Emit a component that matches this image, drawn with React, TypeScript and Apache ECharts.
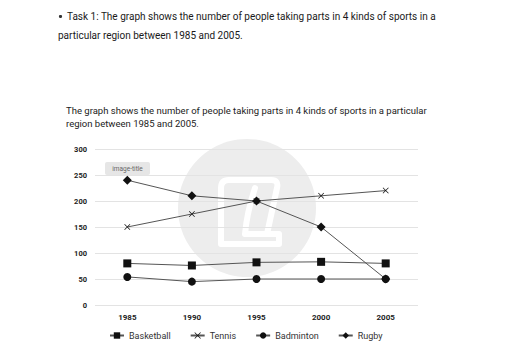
import React, { useEffect, useRef } from "react";
import * as echarts from "echarts";

const years = ["1985", "1990", "1995", "2000", "2005"];
const basketball = [80, 76, 82, 83, 80];
const tennis = [150, 175, 200, 210, 220];
const badminton = [54, 45, 50, 50, 50];
const rugby = [240, 210, 200, 150, 50];
const yTicks = { min: 0, max: 300, interval: 50 };

const headerLine1 = "Task 1: The graph shows the number of people taking parts in 4 kinds of sports in a";
const headerLine2 = "particular region between 1985 and 2005.";
const titleLine1 = "The graph shows the number of people taking parts in 4 kinds of sports in a particular";
const titleLine2 = "region between 1985 and 2005.";

const logoD =
  "M8 68 L8 12 Q8 4 16 4 L58 4 Q66 4 64 12 L54 58 M42 12 Q34 36 32 58 L66 58 L66 68 L8 68";

let registered = false;
function registerLogo() {
  if (registered) return;
  registered = true;
  echarts.graphic.registerShape("logo", (echarts.graphic as any).extendPath(logoD, {}));
}

const xSymbol =
  "path://M0,0.8 L0.8,0 L5,4.2 L9.2,0 L10,0.8 L5.8,5 L10,9.2 L9.2,10 L5,5.8 L0.8,10 L0,9.2 L4.2,5 Z";

export default function App() {
  const ref = useRef<HTMLDivElement>(null);
  useEffect(() => {
    document.body.style.margin = "0";
    registerLogo();
    const chart = echarts.init(ref.current!, null, { renderer: "svg" });
    const font = "Roboto, 'Noto Sans', sans-serif";
    const lineStyle = { color: "#555", width: 1 };
    const mk = (name: string, data: number[], symbol: string, size: number) => ({
      name,
      type: "line",
      data,
      symbol,
      symbolSize: size,
      lineStyle,
      itemStyle: { color: "#111" },
      z: 5,
    });
    chart.setOption({
      animation: false,
      backgroundColor: "#fff",
      textStyle: { fontFamily: font },
      grid: { left: 95, right: 94, top: 149, bottom: 55, containLabel: false },
      xAxis: {
        type: "category",
        data: years,
        boundaryGap: true,
        axisLine: { show: false },
        axisTick: { show: false },
        axisLabel: { color: "#222", fontSize: 8, fontWeight: "bold", margin: 8, fontFamily: font },
      },
      yAxis: {
        type: "value",
        min: yTicks.min,
        max: yTicks.max,
        interval: yTicks.interval,
        axisLine: { show: false },
        axisTick: { show: false },
        splitLine: { lineStyle: { color: "#e3e3e3", width: 1 } },
        axisLabel: { color: "#222", fontSize: 7.5, fontWeight: "bold", margin: 8, fontFamily: font },
      },
      legend: {
        top: 326,
        left: 104,
        itemWidth: 14,
        itemHeight: 8,
        itemGap: 19,
        textStyle: { color: "#333", fontSize: 9, fontFamily: font },
        data: ["Basketball", "Tennis", "Badminton", "Rugby"],
      },
      graphic: [
        {
          type: "circle",
          shape: { cx: 247, cy: 208, r: 69 },
          style: { fill: "#ededed" },
          z: 0,
          silent: true,
        },
        {
          type: "logo",
          x: 213,
          y: 176,
          scaleX: 1,
          scaleY: 1,
          style: { fill: "none", stroke: "#ffffff", lineWidth: 6, lineJoin: "round", lineCap: "round" },
          z: 0,
          silent: true,
        },
        {
          type: "circle",
          shape: { cx: 60.5, cy: 16.5, r: 1.6 },
          style: { fill: "#333" },
        },
        {
          type: "text",
          x: 67,
          y: 11,
          style: { text: headerLine1, fontSize: 10, fill: "#1a1a1a", fontFamily: font },
        },
        {
          type: "text",
          x: 58,
          y: 30,
          style: { text: headerLine2, fontSize: 10, fill: "#1a1a1a", fontFamily: font },
        },
        {
          type: "text",
          x: 66,
          y: 105,
          style: { text: titleLine1, fontSize: 9.5, fill: "#222", fontFamily: font },
        },
        {
          type: "text",
          x: 66,
          y: 118,
          style: { text: titleLine2, fontSize: 9.5, fill: "#222", fontFamily: font },
        },
        {
          type: "rect",
          shape: { x: 105, y: 162, width: 45, height: 13, r: 2 },
          style: { fill: "#e6e6e6" },
          z: 10,
        },
        {
          type: "text",
          x: 127.5,
          y: 168.5,
          z: 11,
          style: {
            text: "image-title",
            fontSize: 6.5,
            fill: "#666",
            fontFamily: font,
            align: "center",
            verticalAlign: "middle",
          },
        },
      ],
      series: [
        mk("Basketball", basketball, "rect", 8),
        mk("Tennis", tennis, xSymbol, 6),
        mk("Badminton", badminton, "circle", 8),
        mk("Rugby", rugby, "diamond", 9),
      ],
    });
    return () => chart.dispose();
  }, []);
  return <div ref={ref} style={{ width: 512, height: 360 }} />;
}
